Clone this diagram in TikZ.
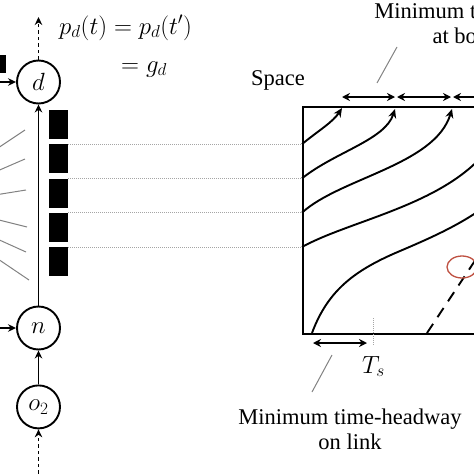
\documentclass[tikz,border=0pt]{standalone}
\usepackage{fontspec}
\setmainfont{Liberation Serif}
\usepackage{amsmath}
\usetikzlibrary{arrows.meta, positioning}
\definecolor{GuideColor}{RGB}{130, 130, 130}
\definecolor{ProjColor}{RGB}{165, 165, 165}
\definecolor{MarkColor}{RGB}{190, 80, 65}

\begin{document}
\begin{tikzpicture}[
    x=1pt, y=-1pt,
    place/.style={
        draw,
        circle,
        line width=1.9pt,
        minimum size=43pt,
        inner sep=0pt,
        font=\fontsize{26}{28}\selectfont
    },
    bar/.style={fill=black, minimum width=19pt, minimum height=29pt, inner sep=0pt},
    board/.style={draw, line width=1.9pt, minimum width=298pt, minimum height=227pt, inner sep=0pt, anchor=north west},
    arrow/.style={-{Stealth[length=8pt, width=7.5pt]}, line width=1.9pt},
    dotarrow/.style={arrow, dash pattern=on 3.5pt off 3pt},
    headway/.style={{Stealth[length=8pt, width=8pt]}-{Stealth[length=8pt, width=8pt]}, line width=1.9pt},
    traj/.style={-{Stealth[length=9pt, width=8pt]}, line width=1.9pt},
    guide/.style={GuideColor, line width=1pt},
    proj/.style={ProjColor, line width=1pt, dash pattern=on 1pt off 1pt},
    txt/.style={font=\fontsize{22.5}{25}\selectfont, align=center, inner sep=0pt},
    eq/.style={font=\fontsize{26.5}{30}\selectfont, inner sep=0pt, anchor=base west}
]
\useasboundingbox (0,0) rectangle (474,474);
\clip (0,0) rectangle (474,474);

% Nodes on the route
\node[place] (d) at (38.5,82) {$d$};
\node[place] (n) at (38.5,328) {$n$};
\node[place, below=34pt of n] (o2) {$o_2$};

% Free ends
\coordinate (dtop) at (38.5,17);
\coordinate (obot) at (38.5,480);
\coordinate (din) at (-3,82);
\coordinate (nin) at (-3,328);

% Connections on the route
\draw[dotarrow] (d) -- (dtop);
\draw[dotarrow] (obot) -- (o2);
\draw[arrow] (o2) -- (n);
\draw[arrow] (n) -- (d);
\draw[arrow] (din) -- (d);
\draw[arrow] (nin) -- (n);

% Queue at the boundary
\fill (-14,55) rectangle (6,73);
\foreach \i in {0,...,4}
    \node[bar] (bar\i) at (58.5,124.5+34.3*\i) {};

% Fan of links on the left
\foreach \ya/\xb/\yb in {150/25/130, 172/25/159, 195/26/190, 219/27/227, 238/26/252, 257/29/280}
    \draw[guide] (-5,\ya) -- (\xb,\yb);

% Equation
\node[eq] (eqtop) at (59,34) {$p_d(t) = p_d(t')$};
\node[eq] (eqbot) at (121,72) {$= g_d$};

% Space-time board
\node[board] (st) at (302,106) {};
\node[txt] (space) at (278,80) {Space};

% Projections to the board
\foreach \i in {1,...,4} {
    \coordinate (s\i) at (bar\i.north east -| st.west);
    \draw[proj] (bar\i.north east) -- (s\i);
}

% Trajectories
\draw[traj] (s1) .. controls (318,131) and (333,122) .. (342,108);
\draw[traj] (s2) .. controls (335,152) and (385,140) .. (395,109);
\draw[traj] (s3) .. controls (340,178) and (435,165) .. (452,109);
\draw[traj] (s4) .. controls (360,215) and (480,200) .. (508,109);
\draw[line width=1.9pt] (312,333) .. controls (328,290) and (355,270) .. (400,251)
    .. controls (440,234) and (470,220) .. (500,195);
\draw[line width=1.9pt, dash pattern=on 11pt off 8pt] (427,333) -- (490,238);
\draw[MarkColor, line width=1.3pt] (462,267) ellipse (15 and 11);

% Headways at the boundary
\foreach \xa/\xb in {342/395, 397/451, 453/508}
    \draw[headway] (\xa,97) -- (\xb,97);
\node[txt] (bndlbl) at (486,25.5) {Minimum time-headway\\at boundary};
\coordinate (bndptr) at (377,83);
\draw[guide] (bndptr) -- (397,47);

% Headway on the link
\draw[headway] (313,343) -- (367,343);
\draw[proj] (373,318) -- (373,346);
\node[eq] (ts) at (362,373) {$T_s$};
\node[txt] (linklbl) at (350,429.5) {Minimum time-headway\\on link};
\coordinate (linkptr) at (312,392);
\draw[guide] (332,355) -- (linkptr);

\end{tikzpicture}
\end{document}
